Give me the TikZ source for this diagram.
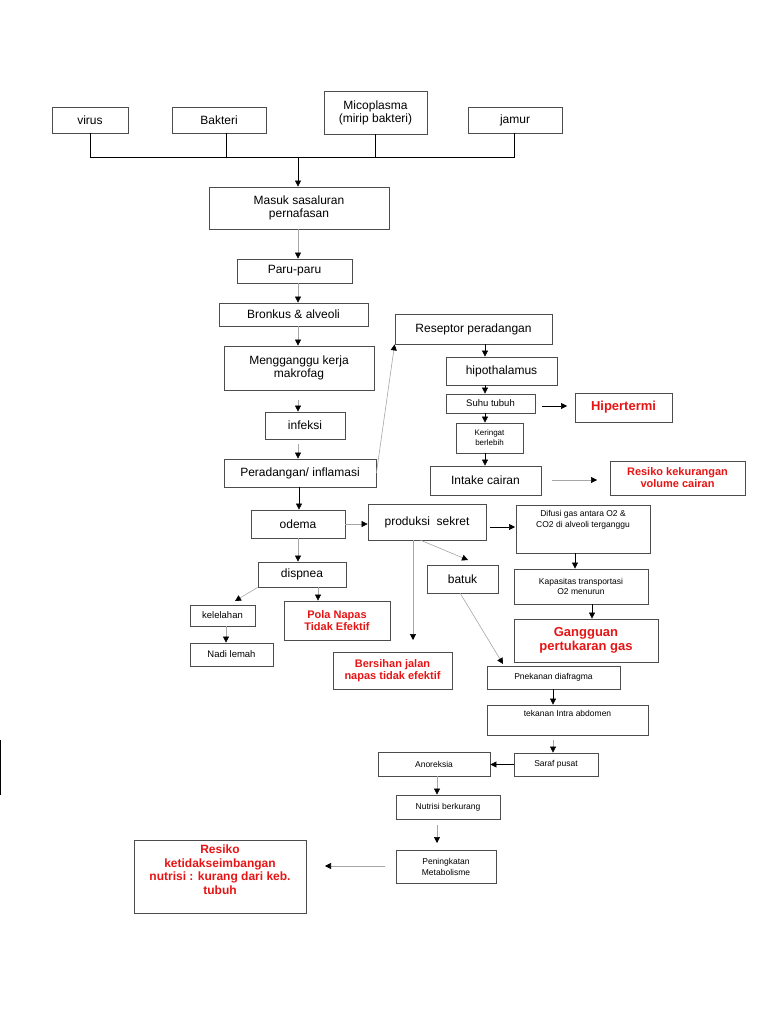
\documentclass[tikz,border=0pt]{standalone}
\usepackage{fontspec}
\setmainfont{Liberation Sans}
\usetikzlibrary{arrows.meta}
\definecolor{rd}{RGB}{230,20,20}
\newcommand\bx[7][]{\node[box,#1,minimum width={(#4-#2)*1pt},minimum height={(#5-#3)*1pt}] (#7) at ({(#2+#4)/2},{(#3+#5)/2}) {#6};}
\newcommand\va[4][gr]{\draw[#1] (#2.south -| #4,0) -- (#3.north -| #4,0);}
\begin{document}
\begin{tikzpicture}[x=1pt,y=-1pt,
 box/.style={draw=black!70,line width=0.8pt,inner sep=1pt,align=center,font=\fontsize{12}{13}\selectfont},
 sm/.style={font=\fontsize{9.5}{11}\selectfont},
 red/.style={text=rd,font=\fontsize{12}{13}\bfseries\selectfont},
 ar/.style={-{Triangle[length=6pt,width=6pt]},line width=0.6pt},
 gr/.style={-{Triangle[length=6pt,width=6pt,color=black,fill=black]},line width=0.6pt,draw=black!35}]
\useasboundingbox (0,0) rectangle (768,1024);
\bx{52}{107}{128}{133}{virus}{virus}
\bx{172}{107}{266}{133}{Bakteri}{bak}
\bx{324}{91}{427}{134}{Micoplasma\\(mirip bakteri)}{mic}
\bx{468}{107}{562}{133}{jamur}{jam}
\bx{209}{187}{389}{229}{Masuk sasaluran\\pernafasan}{mas}
\bx{237}{259}{352}{283}{Paru-paru}{paru}
\bx{219}{303}{368}{326}{Bronkus \& alveoli}{bro}
\bx{224}{346}{374}{390}{Mengganggu kerja\\makrofag}{men}
\bx{265}{412}{345}{439}{infeksi}{inf}
\bx{224}{459}{376}{487}{Peradangan/ inflamasi}{per}
\bx{251}{510}{345}{538}{odema}{ode}
\bx{258}{562}{346}{587}{dispnea}{dis}
\bx[sm]{190}{605}{255}{626}{kelelahan}{kel}
\bx[sm]{190}{643}{273}{666}{Nadi lemah}{nad}
\bx[red,font=\fontsize{11}{12}\bfseries\selectfont]{284}{601}{390}{640}{Pola Napas\\Tidak Efektif}{pola}
\bx[red,font=\fontsize{11}{12}\bfseries\selectfont]{333}{652}{452}{689}{Bersihan jalan\\napas tidak efektif}{bers}
\bx{368}{504}{486}{540}{produksi\ \ sekret}{pro}
\bx{427}{565}{498}{593}{batuk}{bat}
\bx{395}{314}{552}{344}{Reseptor peradangan}{res}
\bx{446}{357}{557}{385}{hipothalamus}{hip}
\bx[sm]{446}{394}{535}{413}{Suhu tubuh}{suhu}
\bx[red,font=\fontsize{13}{14}\bfseries\selectfont]{575}{393}{672}{422}{Hipertermi}{hiper}
\bx[font=\fontsize{8}{10}\selectfont]{456}{423}{523}{453}{Keringat\\berlebih}{ker}
\bx{430}{466}{541}{495}{Intake cairan}{int}
\bx[red,font=\fontsize{11}{12}\bfseries\selectfont]{610}{461}{745}{495}{Resiko kekurangan\\volume cairan}{resk}
\bx[font=\fontsize{8.5}{10.5}\selectfont,text depth=20pt]{516}{505}{650}{553}{Difusi gas antara O2 \&\\CO2 di alveoli terganggu}{dif}
\bx[font=\fontsize{8.5}{10.5}\selectfont]{514}{569}{648}{604}{Kapasitas transportasi\\O2 menurun}{kap}
\bx[red,font=\fontsize{13}{14}\bfseries\selectfont]{514}{619}{658}{662}{Gangguan\\pertukaran gas}{gang}
\bx[font=\fontsize{8.5}{10}\selectfont]{487}{666}{620}{689}{Pnekanan diafragma}{pne}
\bx[font=\fontsize{8.5}{10}\selectfont,text depth=14pt]{487}{705}{648}{735}{tekanan Intra abdomen}{tek}
\bx[font=\fontsize{8.5}{10}\selectfont]{514}{753}{598}{776}{Saraf pusat}{sar}
\bx[font=\fontsize{8.5}{10}\selectfont]{378}{752}{490}{776}{Anoreksia}{ano}
\bx[font=\fontsize{8.5}{10}\selectfont]{396}{795}{500}{819}{Nutrisi berkurang}{nut}
\bx[font=\fontsize{8.5}{11}\selectfont]{396}{850}{496}{883}{Peningkatan\\Metabolisme}{pen}
\bx[red,font=\fontsize{12}{13.5}\bfseries\selectfont,text depth=14pt]{134}{840}{306}{913}{Resiko\\ketidakseimbangan\\nutrisi : kurang dari keb.\\tubuh}{resn}
% bracket
\coordinate (j) at (298,157);
\draw[line width=0.8pt] (virus.south) -- (90,157) -- (514,157) -- (514,133);
\draw[line width=0.8pt] (226,133) -- (226,157);
\draw[line width=0.8pt] (375,134) -- (375,157);
\draw[ar] (j) -- (mas.north -| j);
\draw[line width=1pt] (0,740) -- (0,795);
% arrows
\va{mas}{paru}{298}
\va{paru}{bro}{298}
\va{bro}{men}{298}
\va[gr,shorten <=10pt]{men}{inf}{298}
\va[gr,shorten <=5pt]{inf}{per}{298}
\va[ar]{per}{ode}{299}
\draw[gr] (ode.east) -- (pro.west |- ode.east);
\va{ode}{dis}{298}
\draw[gr] (dis.south west) -- (235,601);
\va{dis}{pola}{318}
\va{kel}{nad}{226}
\draw[gr] (per.east) -- (res.south west);
\va[ar]{res}{hip}{485}
\va[ar]{hip}{suhu}{485}
\va[ar]{suhu}{ker}{485}
\va[ar]{ker}{int}{485}
\draw[ar] (542,406) -- (567,406);
\draw[gr] (552,480) -- (597,480);
\draw[ar] (490,527) -- (515,527);
\draw[gr] (420,540) -- (468,560);
\draw[gr] (413,540) -- (413,640);
\draw[gr] (460,593) -- (503,664);
\va[ar]{dif}{kap}{575}
\va[ar]{kap}{gang}{592}
\va[ar]{pne}{tek}{553}
\va[gr,shorten <=5pt]{tek}{sar}{553}
\draw[ar] (sar.west) -- (ano.east |- sar.west);
\va{ano}{nut}{437}
\draw[gr,shorten <=6pt] (nut.south -| 437,0) -- (437,843);
\draw[gr] (385,866) -- (325,866);
\end{tikzpicture}
\end{document}
